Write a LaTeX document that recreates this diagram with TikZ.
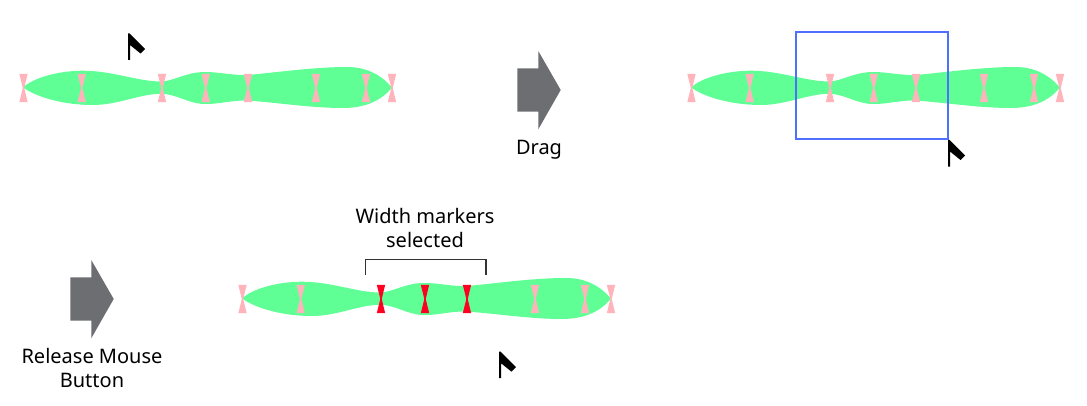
\documentclass[tikz,border=0pt]{standalone}
\usepackage{fontspec}
\setmainfont{Noto Sans}
\definecolor{strokegreen}{HTML}{5FFF96}
\definecolor{markpink}{HTML}{FFB3BA}
\definecolor{markred}{HTML}{FF0022}
\definecolor{arrowgrey}{HTML}{6D6E71}
\definecolor{selblue}{HTML}{4F6FFF}
\definecolor{bracketgrey}{HTML}{333333}
\tikzset{
  x=0.75pt,y=-0.75pt,
  label text/.style={font=\fontsize{15}{18}\selectfont,align=center,text=black,inner sep=0pt},
  pics/strokeshape/.style={code={
    \fill[strokegreen] (23,87.5)
      .. controls (33,78) and (58,70.7) .. (83,70.7)
      .. controls (112,70.7) and (138,81.5) .. (161,81.5)
      .. controls (173,81.5) and (186,72) .. (205,72)
      .. controls (220,72) and (232,75.5) .. (248,75)
      .. controls (280,72) and (315,67) .. (347,67)
      .. controls (368,67) and (382,76) .. (392,87.5)
      .. controls (382,100) and (366,108) .. (343,108)
      .. controls (312,108) and (280,103) .. (248,100.5)
      .. controls (232,100) and (218,104.5) .. (204,104)
      .. controls (188,103.5) and (176,93.8) .. (161,93.8)
      .. controls (140,93.8) and (118,105) .. (93,105)
      .. controls (65,105) and (38,98) .. (23,87.5) -- cycle;
  }},
  pics/bowtie/.style={code={
    \fill[#1] (-4.2,-14.2) -- (4.2,-14.2) -- (0.7,0) -- (4.2,14.2) -- (-4.2,14.2) -- (-0.7,0) -- cycle;
  }},
  pics/cursorshape/.style={code={
    \fill[black] (-1,0) -- (0.5,0) -- (16,15.5) -- (11.5,20) -- (1,11.5) -- (1,26.5) -- (-1,26.5) -- cycle;
  }},
  pics/bigarrow/.style={code={
    \fill[arrowgrey] (517.3,68.3) -- (538.3,68.3) -- (538.3,51) -- (560.7,90) -- (538.3,129.3) -- (538.3,111.7) -- (517.3,111.7) -- cycle;
  }}
}
\begin{document}
\begin{tikzpicture}
\useasboundingbox (0,0) rectangle (1087,406);
% row 1
\pic at (0,0) {strokeshape};
\foreach \mx in {23.5,81.7,162,205.7,248,316,366,392} \pic at (\mx,88) {bowtie=markpink};
\pic at (129,33.5) {cursorshape};
% arrow 1
\pic at (0,0) {bigarrow};
\node[label text] (drag) at (539,150) {Drag};
% row 2
\pic at (668,0) {strokeshape};
\foreach \mx in {23.5,81.7,162,205.7,248,316,366,392} \pic at (\mx+668,88) {bowtie=markpink};
\draw[selblue,line width=1.5pt] (796,32) rectangle (948,139.5);
\pic at (949,140) {cursorshape};
% arrow 2
\pic at (-447,209) {bigarrow};
\node[label text] (release) at (92,368) {Release Mouse\\Button};
% row 3
\pic at (219,211) {strokeshape};
\foreach \mx in {23.5,81.7,316,366,392} \pic at (\mx+219,299) {bowtie=markpink};
\foreach \mx in {381,425,467} \pic at (\mx,299) {bowtie=markred};
\node[label text] (width) at (425,228) {Width markers\\selected};
\coordinate (bl) at (365.3,275);
\coordinate (br) at (485.7,275);
\draw[bracketgrey,line width=1.2pt] (bl) |- (425,259.3) -| (br);
\pic at (500,351.7) {cursorshape};
\end{tikzpicture}
\end{document}
